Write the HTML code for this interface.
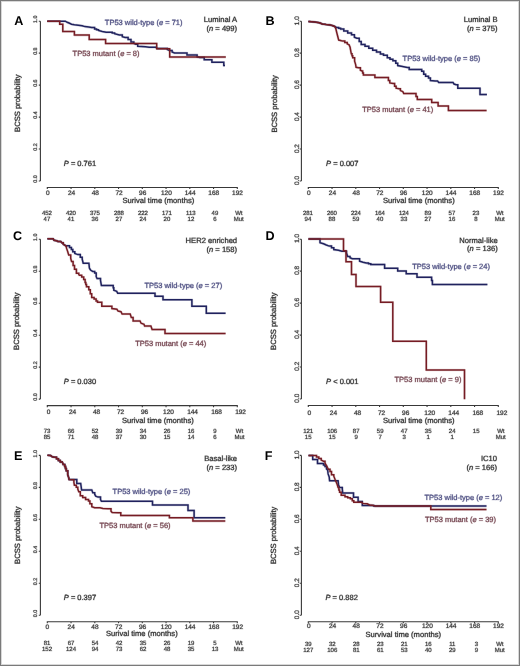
<!DOCTYPE html>
<html><head><meta charset="utf-8"><title>TP53 status and breast cancer-specific survival</title>
<style>
html,body{margin:0;padding:0;background:#fff;}
svg{display:block;will-change:transform;}
text{font-family:"Liberation Sans", sans-serif;text-rendering:geometricPrecision;}
.L{font-size:12.6px;font-weight:bold;fill:#000;}
.ax{fill:none;stroke:#383838;stroke-width:1.1;}
.yt{font-size:6.4px;fill:#3a3a3a;stroke:#3a3a3a;stroke-width:0.12;text-anchor:middle;}
.yl{font-size:7.6px;fill:#2a2a2a;stroke:#2a2a2a;stroke-width:0.12;text-anchor:middle;}
.xt{font-size:6.5px;fill:#2a2a2a;stroke:#2a2a2a;stroke-width:0.08;text-anchor:middle;}
.xl{font-size:7.6px;fill:#2a2a2a;stroke:#2a2a2a;stroke-width:0.12;text-anchor:middle;}
.rk{font-size:6.0px;fill:#2a2a2a;stroke:#2a2a2a;stroke-width:0.06;text-anchor:middle;}
.tt{font-size:7.6px;fill:#2a2a2a;stroke:#2a2a2a;stroke-width:0.12;text-anchor:end;}
.lb{font-size:7.5px;fill:#48497e;stroke:#48497e;stroke-width:0.12;}
.lr{font-size:7.5px;fill:#6e3c48;stroke:#6e3c48;stroke-width:0.12;}
.pv{font-size:7.5px;fill:#2a2a2a;stroke:#2a2a2a;stroke-width:0.12;}
.h{fill:none;stroke-opacity:0.2;stroke-width:1.0;stroke-linejoin:round;}
.cbh{fill:none;stroke:#20225e;stroke-opacity:0.2;stroke-width:2.6;stroke-linejoin:round;}
.crh{fill:none;stroke:#761c24;stroke-opacity:0.18;stroke-width:2.6;stroke-linejoin:round;}
.cb{fill:none;stroke:#20225e;stroke-width:1.5;stroke-linejoin:miter;}
.cr{fill:none;stroke:#761c24;stroke-width:1.5;stroke-linejoin:miter;}
</style></head>
<body>
<svg width="520" height="666" viewBox="0 0 520 666">
<rect x="0" y="0" width="520" height="666" fill="#fff"/>
<g>
<text x="14.20" y="24.90" class="L">A</text>
<text transform="translate(37.40,179.00) rotate(-90)" class="yt h" style="font-size:5.3px">0.0</text>
<text transform="translate(37.40,179.00) rotate(-90)" class="yt" style="font-size:5.3px">0.0</text>
<text transform="translate(37.40,147.04) rotate(-90)" class="yt h" style="font-size:5.3px">0.2</text>
<text transform="translate(37.40,147.04) rotate(-90)" class="yt" style="font-size:5.3px">0.2</text>
<text transform="translate(37.40,115.08) rotate(-90)" class="yt h" style="font-size:5.3px">0.4</text>
<text transform="translate(37.40,115.08) rotate(-90)" class="yt" style="font-size:5.3px">0.4</text>
<text transform="translate(37.40,83.12) rotate(-90)" class="yt h" style="font-size:5.3px">0.6</text>
<text transform="translate(37.40,83.12) rotate(-90)" class="yt" style="font-size:5.3px">0.6</text>
<text transform="translate(37.40,51.16) rotate(-90)" class="yt h" style="font-size:5.3px">0.8</text>
<text transform="translate(37.40,51.16) rotate(-90)" class="yt" style="font-size:5.3px">0.8</text>
<text transform="translate(37.40,19.20) rotate(-90)" class="yt h" style="font-size:5.3px">1.0</text>
<text transform="translate(37.40,19.20) rotate(-90)" class="yt" style="font-size:5.3px">1.0</text>
<path d="M40.40,21.20 V181.00 M38.80,181.00 H40.40 M38.80,149.04 H40.40 M38.80,117.08 H40.40 M38.80,85.12 H40.40 M38.80,53.16 H40.40 M38.80,21.20 H40.40" class="ax"/>
<text transform="translate(19.60,103.20) rotate(-90)" class="yl h">BCSS probability</text>
<text transform="translate(19.60,103.20) rotate(-90)" class="yl">BCSS probability</text>
<path d="M47.30,189.10 V187.50 H237.30 V189.10 M71.05,187.50 V189.10 M94.80,187.50 V189.10 M118.55,187.50 V189.10 M142.30,187.50 V189.10 M166.05,187.50 V189.10 M189.80,187.50 V189.10 M213.55,187.50 V189.10" class="ax"/>
<text x="47.90" y="194.80" class="xt h">0</text>
<text x="47.90" y="194.80" class="xt">0</text>
<text x="71.60" y="194.80" class="xt h">24</text>
<text x="71.60" y="194.80" class="xt">24</text>
<text x="95.30" y="194.80" class="xt h">48</text>
<text x="95.30" y="194.80" class="xt">48</text>
<text x="119.00" y="194.80" class="xt h">72</text>
<text x="119.00" y="194.80" class="xt">72</text>
<text x="142.70" y="194.80" class="xt h">96</text>
<text x="142.70" y="194.80" class="xt">96</text>
<text x="166.40" y="194.80" class="xt h">120</text>
<text x="166.40" y="194.80" class="xt">120</text>
<text x="190.10" y="194.80" class="xt h">144</text>
<text x="190.10" y="194.80" class="xt">144</text>
<text x="213.80" y="194.80" class="xt h">168</text>
<text x="213.80" y="194.80" class="xt">168</text>
<text x="237.50" y="194.80" class="xt h">192</text>
<text x="237.50" y="194.80" class="xt">192</text>
<text x="158.35" y="203.20" class="xl h">Surival time (months)</text>
<text x="158.35" y="203.20" class="xl">Surival time (months)</text>
<text x="46.90" y="215.20" class="rk h">452</text>
<text x="46.90" y="215.20" class="rk">452</text>
<text x="46.90" y="221.10" class="rk h">47</text>
<text x="46.90" y="221.10" class="rk">47</text>
<text x="70.90" y="215.20" class="rk h">420</text>
<text x="70.90" y="215.20" class="rk">420</text>
<text x="70.90" y="221.10" class="rk h">41</text>
<text x="70.90" y="221.10" class="rk">41</text>
<text x="94.90" y="215.20" class="rk h">375</text>
<text x="94.90" y="215.20" class="rk">375</text>
<text x="94.90" y="221.10" class="rk h">36</text>
<text x="94.90" y="221.10" class="rk">36</text>
<text x="118.90" y="215.20" class="rk h">288</text>
<text x="118.90" y="215.20" class="rk">288</text>
<text x="118.90" y="221.10" class="rk h">27</text>
<text x="118.90" y="221.10" class="rk">27</text>
<text x="142.90" y="215.20" class="rk h">222</text>
<text x="142.90" y="215.20" class="rk">222</text>
<text x="142.90" y="221.10" class="rk h">24</text>
<text x="142.90" y="221.10" class="rk">24</text>
<text x="166.90" y="215.20" class="rk h">171</text>
<text x="166.90" y="215.20" class="rk">171</text>
<text x="166.90" y="221.10" class="rk h">20</text>
<text x="166.90" y="221.10" class="rk">20</text>
<text x="190.90" y="215.20" class="rk h">113</text>
<text x="190.90" y="215.20" class="rk">113</text>
<text x="190.90" y="221.10" class="rk h">12</text>
<text x="190.90" y="221.10" class="rk">12</text>
<text x="214.90" y="215.20" class="rk h">49</text>
<text x="214.90" y="215.20" class="rk">49</text>
<text x="214.90" y="221.10" class="rk h">6</text>
<text x="214.90" y="221.10" class="rk">6</text>
<text x="238.80" y="215.20" class="rk h">Wt</text>
<text x="238.80" y="215.20" class="rk">Wt</text>
<text x="238.80" y="221.10" class="rk h">Mut</text>
<text x="238.80" y="221.10" class="rk">Mut</text>
<text x="237.10" y="21.90" class="tt h">Luminal A</text>
<text x="237.10" y="21.90" class="tt">Luminal A</text>
<text x="237.10" y="30.75" class="tt h">(<tspan font-style="italic">n</tspan> = 499)</text>
<text x="237.10" y="30.75" class="tt">(<tspan font-style="italic">n</tspan> = 499)</text>
<path d="M47.20,21.20 H65.30 L67.20,22.30 L69.60,23.30 L71.50,24.20 L74.40,24.70 L78.30,25.20 L82.10,25.70 L85.00,26.60 L88.80,27.10 L91.70,27.60 H94.60 V29.00 H96.55 V29.75 H98.50 V30.50 L102.30,31.40 L106.20,32.20 L109.80,32.30 H112.20 V33.00 H114.60 V33.70 L119.40,34.90 H122.30 V36.60 L125.20,37.40 H128.10 V39.50 H131.00 V41.90 H133.80 V43.20 L135.80,44.30 H137.70 V46.20 L145.40,46.70 L149.20,47.20 H155.80 L157.20,48.40 H165.00 H167.30 V49.60 L169.70,50.60 H172.10 V52.00 L174.50,53.00 H185.60 H187.00 V54.90 H194.20 H197.10 V56.80 L200.00,57.40 H204.20 V59.80 H211.90 V62.20 H223.80 V65.40 H225.00" class="cbh"/>
<path d="M47.20,21.20 H65.30 L67.20,22.30 L69.60,23.30 L71.50,24.20 L74.40,24.70 L78.30,25.20 L82.10,25.70 L85.00,26.60 L88.80,27.10 L91.70,27.60 H94.60 V29.00 H96.55 V29.75 H98.50 V30.50 L102.30,31.40 L106.20,32.20 L109.80,32.30 H112.20 V33.00 H114.60 V33.70 L119.40,34.90 H122.30 V36.60 L125.20,37.40 H128.10 V39.50 H131.00 V41.90 H133.80 V43.20 L135.80,44.30 H137.70 V46.20 L145.40,46.70 L149.20,47.20 H155.80 L157.20,48.40 H165.00 H167.30 V49.60 L169.70,50.60 H172.10 V52.00 L174.50,53.00 H185.60 H187.00 V54.90 H194.20 H197.10 V56.80 L200.00,57.40 H204.20 V59.80 H211.90 V62.20 H223.80 V65.40 H225.00" class="cb"/>
<path d="M47.20,21.20 H59.70 V24.20 H62.80 V31.50 H74.40 V35.10 H89.20 V39.50 H105.60 V43.50 H156.70 V48.80 H169.70 V57.10 H225.80" class="crh"/>
<path d="M47.20,21.20 H59.70 V24.20 H62.80 V31.50 H74.40 V35.10 H89.20 V39.50 H105.60 V43.50 H156.70 V48.80 H169.70 V57.10 H225.80" class="cr"/>
<text x="104.80" y="25.40" class="lb h">TP53 wild-type (<tspan font-style="italic">e</tspan> = 71)</text>
<text x="104.80" y="25.40" class="lb">TP53 wild-type (<tspan font-style="italic">e</tspan> = 71)</text>
<text x="72.60" y="55.80" class="lr h">TP53 mutant (<tspan font-style="italic">e</tspan> = 8)</text>
<text x="72.60" y="55.80" class="lr">TP53 mutant (<tspan font-style="italic">e</tspan> = 8)</text>
<text x="63.80" y="165.60" class="pv h"><tspan font-style="italic">P</tspan> = 0.761</text>
<text x="63.80" y="165.60" class="pv"><tspan font-style="italic">P</tspan> = 0.761</text>
</g>
<g>
<text x="265.60" y="25.10" class="L">B</text>
<text transform="translate(298.60,180.50) rotate(-90)" class="yt h" style="font-size:6.4px">0.0</text>
<text transform="translate(298.60,180.50) rotate(-90)" class="yt" style="font-size:6.4px">0.0</text>
<text transform="translate(298.60,148.54) rotate(-90)" class="yt h" style="font-size:6.4px">0.2</text>
<text transform="translate(298.60,148.54) rotate(-90)" class="yt" style="font-size:6.4px">0.2</text>
<text transform="translate(298.60,116.58) rotate(-90)" class="yt h" style="font-size:6.4px">0.4</text>
<text transform="translate(298.60,116.58) rotate(-90)" class="yt" style="font-size:6.4px">0.4</text>
<text transform="translate(298.60,84.62) rotate(-90)" class="yt h" style="font-size:6.4px">0.6</text>
<text transform="translate(298.60,84.62) rotate(-90)" class="yt" style="font-size:6.4px">0.6</text>
<text transform="translate(298.60,52.66) rotate(-90)" class="yt h" style="font-size:6.4px">0.8</text>
<text transform="translate(298.60,52.66) rotate(-90)" class="yt" style="font-size:6.4px">0.8</text>
<text transform="translate(298.60,20.70) rotate(-90)" class="yt h" style="font-size:6.4px">1.0</text>
<text transform="translate(298.60,20.70) rotate(-90)" class="yt" style="font-size:6.4px">1.0</text>
<path d="M301.40,21.20 V181.00 M299.80,181.00 H301.40 M299.80,149.04 H301.40 M299.80,117.08 H301.40 M299.80,85.12 H301.40 M299.80,53.16 H301.40 M299.80,21.20 H301.40" class="ax"/>
<text transform="translate(276.50,103.80) rotate(-90)" class="yl h">BCSS probability</text>
<text transform="translate(276.50,103.80) rotate(-90)" class="yl">BCSS probability</text>
<path d="M308.30,189.10 V187.50 H498.30 V189.10 M332.05,187.50 V189.10 M355.80,187.50 V189.10 M379.55,187.50 V189.10 M403.30,187.50 V189.10 M427.05,187.50 V189.10 M450.80,187.50 V189.10 M474.55,187.50 V189.10" class="ax"/>
<text x="308.70" y="194.60" class="xt h">0</text>
<text x="308.70" y="194.60" class="xt">0</text>
<text x="332.42" y="194.60" class="xt h">24</text>
<text x="332.42" y="194.60" class="xt">24</text>
<text x="356.14" y="194.60" class="xt h">48</text>
<text x="356.14" y="194.60" class="xt">48</text>
<text x="379.86" y="194.60" class="xt h">72</text>
<text x="379.86" y="194.60" class="xt">72</text>
<text x="403.58" y="194.60" class="xt h">96</text>
<text x="403.58" y="194.60" class="xt">96</text>
<text x="427.30" y="194.60" class="xt h">120</text>
<text x="427.30" y="194.60" class="xt">120</text>
<text x="451.02" y="194.60" class="xt h">144</text>
<text x="451.02" y="194.60" class="xt">144</text>
<text x="474.74" y="194.60" class="xt h">168</text>
<text x="474.74" y="194.60" class="xt">168</text>
<text x="498.46" y="194.60" class="xt h">192</text>
<text x="498.46" y="194.60" class="xt">192</text>
<text x="418.80" y="203.20" class="xl h">Surival time (months)</text>
<text x="418.80" y="203.20" class="xl">Surival time (months)</text>
<text x="307.90" y="215.20" class="rk h">281</text>
<text x="307.90" y="215.20" class="rk">281</text>
<text x="307.90" y="221.10" class="rk h">94</text>
<text x="307.90" y="221.10" class="rk">94</text>
<text x="331.90" y="215.20" class="rk h">260</text>
<text x="331.90" y="215.20" class="rk">260</text>
<text x="331.90" y="221.10" class="rk h">88</text>
<text x="331.90" y="221.10" class="rk">88</text>
<text x="355.90" y="215.20" class="rk h">224</text>
<text x="355.90" y="215.20" class="rk">224</text>
<text x="355.90" y="221.10" class="rk h">59</text>
<text x="355.90" y="221.10" class="rk">59</text>
<text x="379.90" y="215.20" class="rk h">164</text>
<text x="379.90" y="215.20" class="rk">164</text>
<text x="379.90" y="221.10" class="rk h">40</text>
<text x="379.90" y="221.10" class="rk">40</text>
<text x="403.90" y="215.20" class="rk h">124</text>
<text x="403.90" y="215.20" class="rk">124</text>
<text x="403.90" y="221.10" class="rk h">33</text>
<text x="403.90" y="221.10" class="rk">33</text>
<text x="427.90" y="215.20" class="rk h">89</text>
<text x="427.90" y="215.20" class="rk">89</text>
<text x="427.90" y="221.10" class="rk h">27</text>
<text x="427.90" y="221.10" class="rk">27</text>
<text x="451.90" y="215.20" class="rk h">57</text>
<text x="451.90" y="215.20" class="rk">57</text>
<text x="451.90" y="221.10" class="rk h">16</text>
<text x="451.90" y="221.10" class="rk">16</text>
<text x="475.90" y="215.20" class="rk h">23</text>
<text x="475.90" y="215.20" class="rk">23</text>
<text x="475.90" y="221.10" class="rk h">8</text>
<text x="475.90" y="221.10" class="rk">8</text>
<text x="499.80" y="215.20" class="rk h">Wt</text>
<text x="499.80" y="215.20" class="rk">Wt</text>
<text x="499.80" y="221.10" class="rk h">Mut</text>
<text x="499.80" y="221.10" class="rk">Mut</text>
<text x="497.50" y="22.00" class="tt h">Luminal B</text>
<text x="497.50" y="22.00" class="tt">Luminal B</text>
<text x="497.50" y="30.50" class="tt h">(<tspan font-style="italic">n</tspan> = 375)</text>
<text x="497.50" y="30.50" class="tt">(<tspan font-style="italic">n</tspan> = 375)</text>
<path d="M308.40,21.40 L314.60,22.00 L319.40,22.80 L322.30,24.00 L326.20,24.50 L330.00,24.90 L332.90,25.70 L334.80,26.50 L336.70,27.60 H338.65 V28.35 H340.60 V29.10 H343.80 V31.00 H347.70 V32.90 H351.50 V34.80 H354.40 V37.20 L356.80,38.20 H359.20 V41.50 H361.20 V44.40 H365.00 V46.30 H368.80 V48.30 H372.70 V50.20 H376.50 V52.10 H380.40 V54.00 H383.50 V55.30 H387.30 V57.70 H390.00 V59.30 H392.90 V60.80 H395.80 V63.20 H397.70 V65.60 L402.50,66.50 L407.30,67.50 H409.20 V69.40 H419.80 H421.70 V71.30 H423.70 V74.20 H425.60 V76.20 H428.50 V78.10 H430.40 V80.50 L435.20,81.00 L437.60,81.10 L438.70,82.40 H453.00 L454.00,84.00 L456.20,84.70 H457.80 V88.20 H480.00 V94.60 H486.90" class="cbh"/>
<path d="M308.40,21.40 L314.60,22.00 L319.40,22.80 L322.30,24.00 L326.20,24.50 L330.00,24.90 L332.90,25.70 L334.80,26.50 L336.70,27.60 H338.65 V28.35 H340.60 V29.10 H343.80 V31.00 H347.70 V32.90 H351.50 V34.80 H354.40 V37.20 L356.80,38.20 H359.20 V41.50 H361.20 V44.40 H365.00 V46.30 H368.80 V48.30 H372.70 V50.20 H376.50 V52.10 H380.40 V54.00 H383.50 V55.30 H387.30 V57.70 H390.00 V59.30 H392.90 V60.80 H395.80 V63.20 H397.70 V65.60 L402.50,66.50 L407.30,67.50 H409.20 V69.40 H419.80 H421.70 V71.30 H423.70 V74.20 H425.60 V76.20 H428.50 V78.10 H430.40 V80.50 L435.20,81.00 L437.60,81.10 L438.70,82.40 H453.00 L454.00,84.00 L456.20,84.70 H457.80 V88.20 H480.00 V94.60 H486.90" class="cb"/>
<path d="M308.40,21.40 L314.60,22.00 L319.40,22.80 L322.30,24.00 L326.20,24.50 L330.00,24.90 L332.90,25.70 L334.80,26.50 L335.80,28.60 L336.70,32.40 L337.70,36.30 L338.70,40.10 L341.50,40.80 L342.90,41.10 H344.80 V42.50 H347.20 V43.90 L349.10,44.90 L350.10,47.30 L350.60,50.20 L351.30,53.80 H352.00 V55.75 H352.70 V57.70 H354.60 V61.10 L355.60,64.40 L356.10,67.30 L358.50,67.80 H360.40 V70.20 L361.90,70.90 H362.65 V72.95 H363.40 V75.00 H374.90 V77.60 H386.90 H388.40 V80.50 H389.80 V82.90 L393.20,83.40 H394.60 V86.30 H396.10 V88.20 L398.90,88.70 H400.40 V90.60 L402.80,91.60 L403.80,93.60 H414.50 H416.00 V96.50 H417.30 V99.40 H431.70 V102.50 H438.10 V106.00 H448.40 V110.60 H486.60" class="crh"/>
<path d="M308.40,21.40 L314.60,22.00 L319.40,22.80 L322.30,24.00 L326.20,24.50 L330.00,24.90 L332.90,25.70 L334.80,26.50 L335.80,28.60 L336.70,32.40 L337.70,36.30 L338.70,40.10 L341.50,40.80 L342.90,41.10 H344.80 V42.50 H347.20 V43.90 L349.10,44.90 L350.10,47.30 L350.60,50.20 L351.30,53.80 H352.00 V55.75 H352.70 V57.70 H354.60 V61.10 L355.60,64.40 L356.10,67.30 L358.50,67.80 H360.40 V70.20 L361.90,70.90 H362.65 V72.95 H363.40 V75.00 H374.90 V77.60 H386.90 H388.40 V80.50 H389.80 V82.90 L393.20,83.40 H394.60 V86.30 H396.10 V88.20 L398.90,88.70 H400.40 V90.60 L402.80,91.60 L403.80,93.60 H414.50 H416.00 V96.50 H417.30 V99.40 H431.70 V102.50 H438.10 V106.00 H448.40 V110.60 H486.60" class="cr"/>
<text x="402.60" y="61.30" class="lb h">TP53 wild-type (<tspan font-style="italic">e</tspan> = 85)</text>
<text x="402.60" y="61.30" class="lb">TP53 wild-type (<tspan font-style="italic">e</tspan> = 85)</text>
<text x="362.20" y="111.80" class="lr h">TP53 mutant (<tspan font-style="italic">e</tspan> = 41)</text>
<text x="362.20" y="111.80" class="lr">TP53 mutant (<tspan font-style="italic">e</tspan> = 41)</text>
<text x="326.10" y="166.10" class="pv h"><tspan font-style="italic">P</tspan> = 0.007</text>
<text x="326.10" y="166.10" class="pv"><tspan font-style="italic">P</tspan> = 0.007</text>
</g>
<g>
<text x="13.00" y="240.30" class="L">C</text>
<text transform="translate(37.40,397.00) rotate(-90)" class="yt h" style="font-size:5.3px">0.0</text>
<text transform="translate(37.40,397.00) rotate(-90)" class="yt" style="font-size:5.3px">0.0</text>
<text transform="translate(37.40,365.04) rotate(-90)" class="yt h" style="font-size:5.3px">0.2</text>
<text transform="translate(37.40,365.04) rotate(-90)" class="yt" style="font-size:5.3px">0.2</text>
<text transform="translate(37.40,333.08) rotate(-90)" class="yt h" style="font-size:5.3px">0.4</text>
<text transform="translate(37.40,333.08) rotate(-90)" class="yt" style="font-size:5.3px">0.4</text>
<text transform="translate(37.40,301.12) rotate(-90)" class="yt h" style="font-size:5.3px">0.6</text>
<text transform="translate(37.40,301.12) rotate(-90)" class="yt" style="font-size:5.3px">0.6</text>
<text transform="translate(37.40,269.16) rotate(-90)" class="yt h" style="font-size:5.3px">0.8</text>
<text transform="translate(37.40,269.16) rotate(-90)" class="yt" style="font-size:5.3px">0.8</text>
<text transform="translate(37.40,237.20) rotate(-90)" class="yt h" style="font-size:5.3px">1.0</text>
<text transform="translate(37.40,237.20) rotate(-90)" class="yt" style="font-size:5.3px">1.0</text>
<path d="M40.40,239.30 V399.10 M38.80,399.10 H40.40 M38.80,367.14 H40.40 M38.80,335.18 H40.40 M38.80,303.22 H40.40 M38.80,271.26 H40.40 M38.80,239.30 H40.40" class="ax"/>
<text transform="translate(19.30,321.20) rotate(-90)" class="yl h">BCSS probability</text>
<text transform="translate(19.30,321.20) rotate(-90)" class="yl">BCSS probability</text>
<path d="M47.30,407.20 V405.60 H237.30 V407.20 M71.05,405.60 V407.20 M94.80,405.60 V407.20 M118.55,405.60 V407.20 M142.30,405.60 V407.20 M166.05,405.60 V407.20 M189.80,405.60 V407.20 M213.55,405.60 V407.20" class="ax"/>
<text x="48.50" y="414.10" class="xt h">0</text>
<text x="48.50" y="414.10" class="xt">0</text>
<text x="72.51" y="414.10" class="xt h">24</text>
<text x="72.51" y="414.10" class="xt">24</text>
<text x="96.52" y="414.10" class="xt h">48</text>
<text x="96.52" y="414.10" class="xt">48</text>
<text x="120.53" y="414.10" class="xt h">72</text>
<text x="120.53" y="414.10" class="xt">72</text>
<text x="144.54" y="414.10" class="xt h">96</text>
<text x="144.54" y="414.10" class="xt">96</text>
<text x="168.55" y="414.10" class="xt h">120</text>
<text x="168.55" y="414.10" class="xt">120</text>
<text x="192.56" y="414.10" class="xt h">144</text>
<text x="192.56" y="414.10" class="xt">144</text>
<text x="216.57" y="414.10" class="xt h">168</text>
<text x="216.57" y="414.10" class="xt">168</text>
<text x="240.58" y="414.10" class="xt h">192</text>
<text x="240.58" y="414.10" class="xt">192</text>
<text x="157.85" y="423.40" class="xl h">Surival time (months)</text>
<text x="157.85" y="423.40" class="xl">Surival time (months)</text>
<text x="47.00" y="432.80" class="rk h">73</text>
<text x="47.00" y="432.80" class="rk">73</text>
<text x="47.00" y="438.70" class="rk h">85</text>
<text x="47.00" y="438.70" class="rk">85</text>
<text x="71.00" y="432.80" class="rk h">66</text>
<text x="71.00" y="432.80" class="rk">66</text>
<text x="71.00" y="438.70" class="rk h">71</text>
<text x="71.00" y="438.70" class="rk">71</text>
<text x="95.00" y="432.80" class="rk h">52</text>
<text x="95.00" y="432.80" class="rk">52</text>
<text x="95.00" y="438.70" class="rk h">48</text>
<text x="95.00" y="438.70" class="rk">48</text>
<text x="119.00" y="432.80" class="rk h">39</text>
<text x="119.00" y="432.80" class="rk">39</text>
<text x="119.00" y="438.70" class="rk h">37</text>
<text x="119.00" y="438.70" class="rk">37</text>
<text x="143.00" y="432.80" class="rk h">34</text>
<text x="143.00" y="432.80" class="rk">34</text>
<text x="143.00" y="438.70" class="rk h">30</text>
<text x="143.00" y="438.70" class="rk">30</text>
<text x="167.00" y="432.80" class="rk h">26</text>
<text x="167.00" y="432.80" class="rk">26</text>
<text x="167.00" y="438.70" class="rk h">15</text>
<text x="167.00" y="438.70" class="rk">15</text>
<text x="191.00" y="432.80" class="rk h">16</text>
<text x="191.00" y="432.80" class="rk">16</text>
<text x="191.00" y="438.70" class="rk h">14</text>
<text x="191.00" y="438.70" class="rk">14</text>
<text x="215.00" y="432.80" class="rk h">9</text>
<text x="215.00" y="432.80" class="rk">9</text>
<text x="215.00" y="438.70" class="rk h">6</text>
<text x="215.00" y="438.70" class="rk">6</text>
<text x="239.50" y="432.80" class="rk h">Wt</text>
<text x="239.50" y="432.80" class="rk">Wt</text>
<text x="239.50" y="438.70" class="rk h">Mut</text>
<text x="239.50" y="438.70" class="rk">Mut</text>
<text x="237.10" y="242.90" class="tt h">HER2 enriched</text>
<text x="237.10" y="242.90" class="tt">HER2 enriched</text>
<text x="237.10" y="251.90" class="tt h">(<tspan font-style="italic">n</tspan> = 158)</text>
<text x="237.10" y="251.90" class="tt">(<tspan font-style="italic">n</tspan> = 158)</text>
<path d="M47.40,238.70 H53.10 L54.10,240.30 L56.50,240.70 L57.90,241.50 H60.80 L61.80,242.70 H63.20 V244.10 L64.70,245.10 L66.10,246.00 L67.60,245.70 H69.50 V247.50 H71.40 V249.40 H72.80 V251.80 H74.80 V253.40 L77.90,254.60 H80.30 V257.30 H82.20 V259.20 L83.20,263.30 H88.90 L89.40,268.00 L89.90,269.00 L90.80,270.30 L92.80,271.50 H94.70 V273.00 H96.20 V276.70 L97.10,278.60 H100.50 V280.50 L101.40,285.40 H112.60 H113.20 V287.85 H113.80 V290.30 L116.70,291.30 L117.70,293.20 H155.00 V296.30 H163.00 V299.80 H191.90 V306.30 H206.30 V313.30 H225.60" class="cbh"/>
<path d="M47.40,238.70 H53.10 L54.10,240.30 L56.50,240.70 L57.90,241.50 H60.80 L61.80,242.70 H63.20 V244.10 L64.70,245.10 L66.10,246.00 L67.60,245.70 H69.50 V247.50 H71.40 V249.40 H72.80 V251.80 H74.80 V253.40 L77.90,254.60 H80.30 V257.30 H82.20 V259.20 L83.20,263.30 H88.90 L89.40,268.00 L89.90,269.00 L90.80,270.30 L92.80,271.50 H94.70 V273.00 H96.20 V276.70 L97.10,278.60 H100.50 V280.50 L101.40,285.40 H112.60 H113.20 V287.85 H113.80 V290.30 L116.70,291.30 L117.70,293.20 H155.00 V296.30 H163.00 V299.80 H191.90 V306.30 H206.30 V313.30 H225.60" class="cb"/>
<path d="M47.40,238.70 H53.10 L54.10,240.30 L56.50,240.70 L57.90,241.50 H60.80 L61.80,242.70 H63.20 V244.10 L64.70,245.10 L66.10,246.00 L66.60,248.40 L67.60,251.30 L68.70,254.90 H70.70 V258.30 L71.60,261.60 H73.10 V265.50 H74.50 V269.30 H76.40 V273.20 H78.80 V274.60 L79.30,275.20 H81.70 V277.10 H83.70 V279.50 H85.10 V282.40 H85.80 V284.60 H86.50 V286.80 H88.80 V289.80 H90.30 V293.70 H91.70 V297.50 H94.10 V298.90 H96.10 V300.90 H97.50 V302.30 H101.80 V306.20 H110.50 H111.90 V308.60 L116.90,309.30 L118.10,311.10 L121.00,311.70 L122.10,314.00 H130.20 L131.30,317.40 H133.10 V320.90 H140.00 L141.10,323.20 L144.00,324.30 L144.60,326.10 H150.90 L152.10,329.60 H165.00 V333.50 H225.60" class="crh"/>
<path d="M47.40,238.70 H53.10 L54.10,240.30 L56.50,240.70 L57.90,241.50 H60.80 L61.80,242.70 H63.20 V244.10 L64.70,245.10 L66.10,246.00 L66.60,248.40 L67.60,251.30 L68.70,254.90 H70.70 V258.30 L71.60,261.60 H73.10 V265.50 H74.50 V269.30 H76.40 V273.20 H78.80 V274.60 L79.30,275.20 H81.70 V277.10 H83.70 V279.50 H85.10 V282.40 H85.80 V284.60 H86.50 V286.80 H88.80 V289.80 H90.30 V293.70 H91.70 V297.50 H94.10 V298.90 H96.10 V300.90 H97.50 V302.30 H101.80 V306.20 H110.50 H111.90 V308.60 L116.90,309.30 L118.10,311.10 L121.00,311.70 L122.10,314.00 H130.20 L131.30,317.40 H133.10 V320.90 H140.00 L141.10,323.20 L144.00,324.30 L144.60,326.10 H150.90 L152.10,329.60 H165.00 V333.50 H225.60" class="cr"/>
<text x="144.40" y="287.70" class="lb h">TP53 wild-type (<tspan font-style="italic">e</tspan> = 27)</text>
<text x="144.40" y="287.70" class="lb">TP53 wild-type (<tspan font-style="italic">e</tspan> = 27)</text>
<text x="135.20" y="345.70" class="lr h">TP53 mutant (<tspan font-style="italic">e</tspan> = 44)</text>
<text x="135.20" y="345.70" class="lr">TP53 mutant (<tspan font-style="italic">e</tspan> = 44)</text>
<text x="63.80" y="383.90" class="pv h"><tspan font-style="italic">P</tspan> = 0.030</text>
<text x="63.80" y="383.90" class="pv"><tspan font-style="italic">P</tspan> = 0.030</text>
</g>
<g>
<text x="265.40" y="240.20" class="L">D</text>
<text transform="translate(298.90,398.20) rotate(-90)" class="yt h" style="font-size:6.4px">0.0</text>
<text transform="translate(298.90,398.20) rotate(-90)" class="yt" style="font-size:6.4px">0.0</text>
<text transform="translate(298.90,366.24) rotate(-90)" class="yt h" style="font-size:6.4px">0.2</text>
<text transform="translate(298.90,366.24) rotate(-90)" class="yt" style="font-size:6.4px">0.2</text>
<text transform="translate(298.90,334.28) rotate(-90)" class="yt h" style="font-size:6.4px">0.4</text>
<text transform="translate(298.90,334.28) rotate(-90)" class="yt" style="font-size:6.4px">0.4</text>
<text transform="translate(298.90,302.32) rotate(-90)" class="yt h" style="font-size:6.4px">0.6</text>
<text transform="translate(298.90,302.32) rotate(-90)" class="yt" style="font-size:6.4px">0.6</text>
<text transform="translate(298.90,270.36) rotate(-90)" class="yt h" style="font-size:6.4px">0.8</text>
<text transform="translate(298.90,270.36) rotate(-90)" class="yt" style="font-size:6.4px">0.8</text>
<text transform="translate(298.90,238.40) rotate(-90)" class="yt h" style="font-size:6.4px">1.0</text>
<text transform="translate(298.90,238.40) rotate(-90)" class="yt" style="font-size:6.4px">1.0</text>
<path d="M301.40,239.20 V399.00 M299.80,399.00 H301.40 M299.80,367.04 H301.40 M299.80,335.08 H301.40 M299.80,303.12 H301.40 M299.80,271.16 H301.40 M299.80,239.20 H301.40" class="ax"/>
<text transform="translate(276.30,321.20) rotate(-90)" class="yl h">BCSS probability</text>
<text transform="translate(276.30,321.20) rotate(-90)" class="yl">BCSS probability</text>
<path d="M308.30,407.10 V405.50 H498.30 V407.10 M332.05,405.50 V407.10 M355.80,405.50 V407.10 M379.55,405.50 V407.10 M403.30,405.50 V407.10 M427.05,405.50 V407.10 M450.80,405.50 V407.10 M474.55,405.50 V407.10" class="ax"/>
<text x="309.40" y="414.90" class="xt h">0</text>
<text x="309.40" y="414.90" class="xt">0</text>
<text x="333.46" y="414.90" class="xt h">24</text>
<text x="333.46" y="414.90" class="xt">24</text>
<text x="357.52" y="414.90" class="xt h">48</text>
<text x="357.52" y="414.90" class="xt">48</text>
<text x="381.58" y="414.90" class="xt h">72</text>
<text x="381.58" y="414.90" class="xt">72</text>
<text x="405.64" y="414.90" class="xt h">96</text>
<text x="405.64" y="414.90" class="xt">96</text>
<text x="429.70" y="414.90" class="xt h">120</text>
<text x="429.70" y="414.90" class="xt">120</text>
<text x="453.76" y="414.90" class="xt h">144</text>
<text x="453.76" y="414.90" class="xt">144</text>
<text x="477.82" y="414.90" class="xt h">168</text>
<text x="477.82" y="414.90" class="xt">168</text>
<text x="501.88" y="414.90" class="xt h">192</text>
<text x="501.88" y="414.90" class="xt">192</text>
<text x="418.75" y="423.00" class="xl h">Surival time (months)</text>
<text x="418.75" y="423.00" class="xl">Surival time (months)</text>
<text x="308.20" y="432.70" class="rk h">121</text>
<text x="308.20" y="432.70" class="rk">121</text>
<text x="308.20" y="438.60" class="rk h">15</text>
<text x="308.20" y="438.60" class="rk">15</text>
<text x="332.20" y="432.70" class="rk h">106</text>
<text x="332.20" y="432.70" class="rk">106</text>
<text x="332.20" y="438.60" class="rk h">15</text>
<text x="332.20" y="438.60" class="rk">15</text>
<text x="356.20" y="432.70" class="rk h">87</text>
<text x="356.20" y="432.70" class="rk">87</text>
<text x="356.20" y="438.60" class="rk h">9</text>
<text x="356.20" y="438.60" class="rk">9</text>
<text x="380.20" y="432.70" class="rk h">59</text>
<text x="380.20" y="432.70" class="rk">59</text>
<text x="380.20" y="438.60" class="rk h">7</text>
<text x="380.20" y="438.60" class="rk">7</text>
<text x="404.20" y="432.70" class="rk h">47</text>
<text x="404.20" y="432.70" class="rk">47</text>
<text x="404.20" y="438.60" class="rk h">3</text>
<text x="404.20" y="438.60" class="rk">3</text>
<text x="428.20" y="432.70" class="rk h">35</text>
<text x="428.20" y="432.70" class="rk">35</text>
<text x="428.20" y="438.60" class="rk h">1</text>
<text x="428.20" y="438.60" class="rk">1</text>
<text x="452.20" y="432.70" class="rk h">24</text>
<text x="452.20" y="432.70" class="rk">24</text>
<text x="452.20" y="438.60" class="rk h">1</text>
<text x="452.20" y="438.60" class="rk">1</text>
<text x="476.20" y="432.70" class="rk h">15</text>
<text x="476.20" y="432.70" class="rk">15</text>
<text x="500.80" y="432.70" class="rk h">Wt</text>
<text x="500.80" y="432.70" class="rk">Wt</text>
<text x="500.80" y="438.60" class="rk h">Mut</text>
<text x="500.80" y="438.60" class="rk">Mut</text>
<text x="497.70" y="242.80" class="tt h">Normal-like</text>
<text x="497.70" y="242.80" class="tt">Normal-like</text>
<text x="497.70" y="251.10" class="tt h">(<tspan font-style="italic">n</tspan> = 136)</text>
<text x="497.70" y="251.10" class="tt">(<tspan font-style="italic">n</tspan> = 136)</text>
<path d="M308.40,238.90 H317.70 H320.00 V242.70 L323.50,243.80 L326.30,245.00 L329.20,246.10 H331.50 V247.80 H333.80 V249.60 L338.40,250.30 L341.90,251.30 H345.00 H346.50 V253.00 L347.70,256.50 H350.00 V257.80 L352.30,258.80 H359.60 V261.20 L363.10,262.30 L366.20,263.10 H368.50 V263.85 H370.80 V264.60 H384.60 V268.30 H397.70 V271.00 H406.20 V273.80 H417.00 V277.20 H431.60 V280.50 H432.40 V284.50 H487.40" class="cbh"/>
<path d="M308.40,238.90 H317.70 H320.00 V242.70 L323.50,243.80 L326.30,245.00 L329.20,246.10 H331.50 V247.80 H333.80 V249.60 L338.40,250.30 L341.90,251.30 H345.00 H346.50 V253.00 L347.70,256.50 H350.00 V257.80 L352.30,258.80 H359.60 V261.20 L363.10,262.30 L366.20,263.10 H368.50 V263.85 H370.80 V264.60 H384.60 V268.30 H397.70 V271.00 H406.20 V273.80 H417.00 V277.20 H431.60 V280.50 H432.40 V284.50 H487.40" class="cb"/>
<path d="M308.40,238.90 H343.50 V250.80 H346.00 V261.70 H351.50 V274.40 H356.00 V286.50 H380.60 V302.30 H392.80 V341.30 H426.30 V370.00 H464.50 V399.20" class="crh"/>
<path d="M308.40,238.90 H343.50 V250.80 H346.00 V261.70 H351.50 V274.40 H356.00 V286.50 H380.60 V302.30 H392.80 V341.30 H426.30 V370.00 H464.50 V399.20" class="cr"/>
<text x="412.20" y="268.90" class="lb h">TP53 wild-type (<tspan font-style="italic">e</tspan> = 24)</text>
<text x="412.20" y="268.90" class="lb">TP53 wild-type (<tspan font-style="italic">e</tspan> = 24)</text>
<text x="394.50" y="382.00" class="lr h">TP53 mutant (<tspan font-style="italic">e</tspan> = 9)</text>
<text x="394.50" y="382.00" class="lr">TP53 mutant (<tspan font-style="italic">e</tspan> = 9)</text>
<text x="326.10" y="384.10" class="pv h"><tspan font-style="italic">P</tspan> &lt; 0.001</text>
<text x="326.10" y="384.10" class="pv"><tspan font-style="italic">P</tspan> &lt; 0.001</text>
</g>
<g>
<text x="13.90" y="459.90" class="L">E</text>
<text transform="translate(37.10,613.50) rotate(-90)" class="yt h" style="font-size:5.3px">0.0</text>
<text transform="translate(37.10,613.50) rotate(-90)" class="yt" style="font-size:5.3px">0.0</text>
<text transform="translate(37.10,581.54) rotate(-90)" class="yt h" style="font-size:5.3px">0.2</text>
<text transform="translate(37.10,581.54) rotate(-90)" class="yt" style="font-size:5.3px">0.2</text>
<text transform="translate(37.10,549.58) rotate(-90)" class="yt h" style="font-size:5.3px">0.4</text>
<text transform="translate(37.10,549.58) rotate(-90)" class="yt" style="font-size:5.3px">0.4</text>
<text transform="translate(37.10,517.62) rotate(-90)" class="yt h" style="font-size:5.3px">0.6</text>
<text transform="translate(37.10,517.62) rotate(-90)" class="yt" style="font-size:5.3px">0.6</text>
<text transform="translate(37.10,485.66) rotate(-90)" class="yt h" style="font-size:5.3px">0.8</text>
<text transform="translate(37.10,485.66) rotate(-90)" class="yt" style="font-size:5.3px">0.8</text>
<text transform="translate(37.10,453.70) rotate(-90)" class="yt h" style="font-size:5.3px">1.0</text>
<text transform="translate(37.10,453.70) rotate(-90)" class="yt" style="font-size:5.3px">1.0</text>
<path d="M40.40,455.40 V615.20 M38.80,615.20 H40.40 M38.80,583.24 H40.40 M38.80,551.28 H40.40 M38.80,519.32 H40.40 M38.80,487.36 H40.40 M38.80,455.40 H40.40" class="ax"/>
<text transform="translate(19.50,535.20) rotate(-90)" class="yl h">BCSS probability</text>
<text transform="translate(19.50,535.20) rotate(-90)" class="yl">BCSS probability</text>
<path d="M47.30,623.30 V621.70 H237.30 V623.30 M71.05,621.70 V623.30 M94.80,621.70 V623.30 M118.55,621.70 V623.30 M142.30,621.70 V623.30 M166.05,621.70 V623.30 M189.80,621.70 V623.30 M213.55,621.70 V623.30" class="ax"/>
<text x="47.40" y="628.70" class="xt h">0</text>
<text x="47.40" y="628.70" class="xt">0</text>
<text x="71.18" y="628.70" class="xt h">24</text>
<text x="71.18" y="628.70" class="xt">24</text>
<text x="94.96" y="628.70" class="xt h">48</text>
<text x="94.96" y="628.70" class="xt">48</text>
<text x="118.74" y="628.70" class="xt h">72</text>
<text x="118.74" y="628.70" class="xt">72</text>
<text x="142.52" y="628.70" class="xt h">96</text>
<text x="142.52" y="628.70" class="xt">96</text>
<text x="166.30" y="628.70" class="xt h">120</text>
<text x="166.30" y="628.70" class="xt">120</text>
<text x="190.08" y="628.70" class="xt h">144</text>
<text x="190.08" y="628.70" class="xt">144</text>
<text x="213.86" y="628.70" class="xt h">168</text>
<text x="213.86" y="628.70" class="xt">168</text>
<text x="237.64" y="628.70" class="xt h">192</text>
<text x="237.64" y="628.70" class="xt">192</text>
<text x="141.80" y="636.00" class="xl h">Surival time (months)</text>
<text x="141.80" y="636.00" class="xl">Surival time (months)</text>
<text x="47.00" y="645.40" class="rk h">81</text>
<text x="47.00" y="645.40" class="rk">81</text>
<text x="47.00" y="651.30" class="rk h">152</text>
<text x="47.00" y="651.30" class="rk">152</text>
<text x="71.00" y="645.40" class="rk h">67</text>
<text x="71.00" y="645.40" class="rk">67</text>
<text x="71.00" y="651.30" class="rk h">124</text>
<text x="71.00" y="651.30" class="rk">124</text>
<text x="95.00" y="645.40" class="rk h">54</text>
<text x="95.00" y="645.40" class="rk">54</text>
<text x="95.00" y="651.30" class="rk h">94</text>
<text x="95.00" y="651.30" class="rk">94</text>
<text x="119.00" y="645.40" class="rk h">42</text>
<text x="119.00" y="645.40" class="rk">42</text>
<text x="119.00" y="651.30" class="rk h">73</text>
<text x="119.00" y="651.30" class="rk">73</text>
<text x="143.00" y="645.40" class="rk h">35</text>
<text x="143.00" y="645.40" class="rk">35</text>
<text x="143.00" y="651.30" class="rk h">62</text>
<text x="143.00" y="651.30" class="rk">62</text>
<text x="167.00" y="645.40" class="rk h">26</text>
<text x="167.00" y="645.40" class="rk">26</text>
<text x="167.00" y="651.30" class="rk h">48</text>
<text x="167.00" y="651.30" class="rk">48</text>
<text x="191.00" y="645.40" class="rk h">19</text>
<text x="191.00" y="645.40" class="rk">19</text>
<text x="191.00" y="651.30" class="rk h">35</text>
<text x="191.00" y="651.30" class="rk">35</text>
<text x="215.00" y="645.40" class="rk h">5</text>
<text x="215.00" y="645.40" class="rk">5</text>
<text x="215.00" y="651.30" class="rk h">13</text>
<text x="215.00" y="651.30" class="rk">13</text>
<text x="238.80" y="645.40" class="rk h">Wt</text>
<text x="238.80" y="645.40" class="rk">Wt</text>
<text x="238.80" y="651.30" class="rk h">Mut</text>
<text x="238.80" y="651.30" class="rk">Mut</text>
<text x="237.10" y="461.10" class="tt h">Basal-like</text>
<text x="237.10" y="461.10" class="tt">Basal-like</text>
<text x="237.10" y="470.00" class="tt h">(<tspan font-style="italic">n</tspan> = 233)</text>
<text x="237.10" y="470.00" class="tt">(<tspan font-style="italic">n</tspan> = 233)</text>
<path d="M47.40,455.30 L50.70,455.60 L52.20,456.80 L54.60,457.30 H56.50 V458.70 H58.40 V460.60 H60.30 V462.10 H62.30 L63.20,464.50 H64.70 V466.40 H65.50 V468.60 H66.30 V470.80 H67.70 V474.70 L68.70,477.60 L69.10,479.50 H76.80 V483.40 H80.70 L81.60,489.90 H91.80 L92.80,492.80 H94.70 V494.20 L95.70,496.10 L98.10,497.10 H100.50 V499.50 L101.40,501.20 H152.50 V505.00 H188.00 V510.40 H194.10 V517.70 H225.30" class="cbh"/>
<path d="M47.40,455.30 L50.70,455.60 L52.20,456.80 L54.60,457.30 H56.50 V458.70 H58.40 V460.60 H60.30 V462.10 H62.30 L63.20,464.50 H64.70 V466.40 H65.50 V468.60 H66.30 V470.80 H67.70 V474.70 L68.70,477.60 L69.10,479.50 H76.80 V483.40 H80.70 L81.60,489.90 H91.80 L92.80,492.80 H94.70 V494.20 L95.70,496.10 L98.10,497.10 H100.50 V499.50 L101.40,501.20 H152.50 V505.00 H188.00 V510.40 H194.10 V517.70 H225.30" class="cb"/>
<path d="M47.40,455.30 L50.70,455.60 L52.20,456.80 L54.60,457.30 H56.50 V458.70 H58.40 V460.60 H60.30 V462.10 H62.30 L63.20,464.50 H64.70 V466.40 H65.50 V468.60 H66.30 V470.80 H67.70 V474.70 L68.70,477.60 L69.10,479.50 L72.50,479.70 H73.90 V482.40 L74.40,485.30 H76.30 V487.20 H77.80 V489.10 L78.80,491.80 H80.30 V495.70 H82.70 V497.60 H85.60 V499.50 H88.50 V501.00 H89.90 V503.80 H91.80 V506.70 L94.70,507.70 H100.00 L102.90,508.40 L108.10,508.70 H111.00 V511.30 L112.10,512.40 L118.50,512.80 H120.80 V515.40 H169.40 V517.70 H192.90 V521.10 H225.30" class="crh"/>
<path d="M47.40,455.30 L50.70,455.60 L52.20,456.80 L54.60,457.30 H56.50 V458.70 H58.40 V460.60 H60.30 V462.10 H62.30 L63.20,464.50 H64.70 V466.40 H65.50 V468.60 H66.30 V470.80 H67.70 V474.70 L68.70,477.60 L69.10,479.50 L72.50,479.70 H73.90 V482.40 L74.40,485.30 H76.30 V487.20 H77.80 V489.10 L78.80,491.80 H80.30 V495.70 H82.70 V497.60 H85.60 V499.50 H88.50 V501.00 H89.90 V503.80 H91.80 V506.70 L94.70,507.70 H100.00 L102.90,508.40 L108.10,508.70 H111.00 V511.30 L112.10,512.40 L118.50,512.80 H120.80 V515.40 H169.40 V517.70 H192.90 V521.10 H225.30" class="cr"/>
<text x="112.60" y="493.90" class="lb h">TP53 wild-type (<tspan font-style="italic">e</tspan> = 25)</text>
<text x="112.60" y="493.90" class="lb">TP53 wild-type (<tspan font-style="italic">e</tspan> = 25)</text>
<text x="99.50" y="528.20" class="lr h">TP53 mutant (<tspan font-style="italic">e</tspan> = 56)</text>
<text x="99.50" y="528.20" class="lr">TP53 mutant (<tspan font-style="italic">e</tspan> = 56)</text>
<text x="63.80" y="599.90" class="pv h"><tspan font-style="italic">P</tspan> = 0.397</text>
<text x="63.80" y="599.90" class="pv"><tspan font-style="italic">P</tspan> = 0.397</text>
</g>
<g>
<text x="264.80" y="459.90" class="L">F</text>
<text transform="translate(298.90,614.70) rotate(-90)" class="yt h" style="font-size:6.4px">0.0</text>
<text transform="translate(298.90,614.70) rotate(-90)" class="yt" style="font-size:6.4px">0.0</text>
<text transform="translate(298.90,582.74) rotate(-90)" class="yt h" style="font-size:6.4px">0.2</text>
<text transform="translate(298.90,582.74) rotate(-90)" class="yt" style="font-size:6.4px">0.2</text>
<text transform="translate(298.90,550.78) rotate(-90)" class="yt h" style="font-size:6.4px">0.4</text>
<text transform="translate(298.90,550.78) rotate(-90)" class="yt" style="font-size:6.4px">0.4</text>
<text transform="translate(298.90,518.82) rotate(-90)" class="yt h" style="font-size:6.4px">0.6</text>
<text transform="translate(298.90,518.82) rotate(-90)" class="yt" style="font-size:6.4px">0.6</text>
<text transform="translate(298.90,486.86) rotate(-90)" class="yt h" style="font-size:6.4px">0.8</text>
<text transform="translate(298.90,486.86) rotate(-90)" class="yt" style="font-size:6.4px">0.8</text>
<text transform="translate(298.90,454.90) rotate(-90)" class="yt h" style="font-size:6.4px">1.0</text>
<text transform="translate(298.90,454.90) rotate(-90)" class="yt" style="font-size:6.4px">1.0</text>
<path d="M301.40,455.40 V615.20 M299.80,615.20 H301.40 M299.80,583.24 H301.40 M299.80,551.28 H301.40 M299.80,519.32 H301.40 M299.80,487.36 H301.40 M299.80,455.40 H301.40" class="ax"/>
<text transform="translate(276.30,535.40) rotate(-90)" class="yl h">BCSS probability</text>
<text transform="translate(276.30,535.40) rotate(-90)" class="yl">BCSS probability</text>
<path d="M308.30,623.30 V621.70 H498.30 V623.30 M332.05,621.70 V623.30 M355.80,621.70 V623.30 M379.55,621.70 V623.30 M403.30,621.70 V623.30 M427.05,621.70 V623.30 M450.80,621.70 V623.30 M474.55,621.70 V623.30" class="ax"/>
<text x="308.80" y="628.10" class="xt h">0</text>
<text x="308.80" y="628.10" class="xt">0</text>
<text x="332.51" y="628.10" class="xt h">24</text>
<text x="332.51" y="628.10" class="xt">24</text>
<text x="356.22" y="628.10" class="xt h">48</text>
<text x="356.22" y="628.10" class="xt">48</text>
<text x="379.93" y="628.10" class="xt h">72</text>
<text x="379.93" y="628.10" class="xt">72</text>
<text x="403.64" y="628.10" class="xt h">96</text>
<text x="403.64" y="628.10" class="xt">96</text>
<text x="427.35" y="628.10" class="xt h">120</text>
<text x="427.35" y="628.10" class="xt">120</text>
<text x="451.06" y="628.10" class="xt h">144</text>
<text x="451.06" y="628.10" class="xt">144</text>
<text x="474.77" y="628.10" class="xt h">168</text>
<text x="474.77" y="628.10" class="xt">168</text>
<text x="498.48" y="628.10" class="xt h">192</text>
<text x="498.48" y="628.10" class="xt">192</text>
<text x="403.30" y="637.10" class="xl h">Survival time (months)</text>
<text x="403.30" y="637.10" class="xl">Survival time (months)</text>
<text x="308.30" y="645.60" class="rk h">39</text>
<text x="308.30" y="645.60" class="rk">39</text>
<text x="308.30" y="651.50" class="rk h">127</text>
<text x="308.30" y="651.50" class="rk">127</text>
<text x="332.30" y="645.60" class="rk h">32</text>
<text x="332.30" y="645.60" class="rk">32</text>
<text x="332.30" y="651.50" class="rk h">106</text>
<text x="332.30" y="651.50" class="rk">106</text>
<text x="356.30" y="645.60" class="rk h">28</text>
<text x="356.30" y="645.60" class="rk">28</text>
<text x="356.30" y="651.50" class="rk h">81</text>
<text x="356.30" y="651.50" class="rk">81</text>
<text x="380.30" y="645.60" class="rk h">23</text>
<text x="380.30" y="645.60" class="rk">23</text>
<text x="380.30" y="651.50" class="rk h">61</text>
<text x="380.30" y="651.50" class="rk">61</text>
<text x="404.30" y="645.60" class="rk h">21</text>
<text x="404.30" y="645.60" class="rk">21</text>
<text x="404.30" y="651.50" class="rk h">53</text>
<text x="404.30" y="651.50" class="rk">53</text>
<text x="428.30" y="645.60" class="rk h">16</text>
<text x="428.30" y="645.60" class="rk">16</text>
<text x="428.30" y="651.50" class="rk h">40</text>
<text x="428.30" y="651.50" class="rk">40</text>
<text x="452.30" y="645.60" class="rk h">11</text>
<text x="452.30" y="645.60" class="rk">11</text>
<text x="452.30" y="651.50" class="rk h">29</text>
<text x="452.30" y="651.50" class="rk">29</text>
<text x="476.30" y="645.60" class="rk h">3</text>
<text x="476.30" y="645.60" class="rk">3</text>
<text x="476.30" y="651.50" class="rk h">9</text>
<text x="476.30" y="651.50" class="rk">9</text>
<text x="499.80" y="645.60" class="rk h">Wt</text>
<text x="499.80" y="645.60" class="rk">Wt</text>
<text x="499.80" y="651.50" class="rk h">Mut</text>
<text x="499.80" y="651.50" class="rk">Mut</text>
<text x="497.00" y="461.10" class="tt h">IC10</text>
<text x="497.00" y="461.10" class="tt">IC10</text>
<text x="497.00" y="470.10" class="tt h">(<tspan font-style="italic">n</tspan> = 166)</text>
<text x="497.00" y="470.10" class="tt">(<tspan font-style="italic">n</tspan> = 166)</text>
<path d="M308.50,455.50 H312.70 V459.50 H317.50 V463.50 H321.90 H323.50 V465.10 H325.00 V466.60 H326.50 V468.90 L327.70,470.10 L328.10,473.90 L329.20,477.00 L329.60,480.80 H338.10 L338.50,484.70 L339.60,487.50 H342.30 V489.20 L342.70,493.00 H353.50 V497.20 H358.10 V501.60 H362.30 V505.50 H373.80 V506.10 H486.50" class="cbh"/>
<path d="M308.50,455.50 H312.70 V459.50 H317.50 V463.50 H321.90 H323.50 V465.10 H325.00 V466.60 H326.50 V468.90 L327.70,470.10 L328.10,473.90 L329.20,477.00 L329.60,480.80 H338.10 L338.50,484.70 L339.60,487.50 H342.30 V489.20 L342.70,493.00 H353.50 V497.20 H358.10 V501.60 H362.30 V505.50 H373.80 V506.10 H486.50" class="cb"/>
<path d="M308.50,455.50 H312.70 H316.50 V457.00 H318.80 V458.50 H321.20 V460.10 L323.50,461.20 H325.00 V463.20 L326.20,465.10 L327.30,467.40 L328.50,469.30 H330.00 V471.60 H331.50 V474.70 H333.80 V476.20 L335.00,479.30 L336.20,482.00 L337.30,484.70 L338.10,487.60 H338.85 V489.90 H339.60 V492.20 H341.20 V495.30 H345.00 V496.80 H347.70 V497.80 H350.40 V498.80 H352.30 V500.70 H353.80 V502.20 H361.90 L362.70,503.40 L367.30,503.80 L369.60,504.90 L373.50,505.40 L375.00,506.10 H430.80 V509.60 H486.50" class="crh"/>
<path d="M308.50,455.50 H312.70 H316.50 V457.00 H318.80 V458.50 H321.20 V460.10 L323.50,461.20 H325.00 V463.20 L326.20,465.10 L327.30,467.40 L328.50,469.30 H330.00 V471.60 H331.50 V474.70 H333.80 V476.20 L335.00,479.30 L336.20,482.00 L337.30,484.70 L338.10,487.60 H338.85 V489.90 H339.60 V492.20 H341.20 V495.30 H345.00 V496.80 H347.70 V497.80 H350.40 V498.80 H352.30 V500.70 H353.80 V502.20 H361.90 L362.70,503.40 L367.30,503.80 L369.60,504.90 L373.50,505.40 L375.00,506.10 H430.80 V509.60 H486.50" class="cr"/>
<text x="424.50" y="500.00" class="lb h">TP53 wild-type (<tspan font-style="italic">e</tspan> = 12)</text>
<text x="424.50" y="500.00" class="lb">TP53 wild-type (<tspan font-style="italic">e</tspan> = 12)</text>
<text x="424.90" y="521.90" class="lr h">TP53 mutant (<tspan font-style="italic">e</tspan> = 39)</text>
<text x="424.90" y="521.90" class="lr">TP53 mutant (<tspan font-style="italic">e</tspan> = 39)</text>
<text x="325.50" y="600.20" class="pv h"><tspan font-style="italic">P</tspan> = 0.882</text>
<text x="325.50" y="600.20" class="pv"><tspan font-style="italic">P</tspan> = 0.882</text>
</g>
<path d="M0.5,0 V666 M0,0.5 H520 M519.5,0 V666 M0,665.5 H520" stroke="#7a7a7a" stroke-width="1" fill="none"/>
<path d="M1.5,1 V665 M1,1.5 H519 M518.5,1 V665 M1,664.5 H519" stroke="#d8d8d8" stroke-width="1" fill="none"/>
</svg>
</body></html>
